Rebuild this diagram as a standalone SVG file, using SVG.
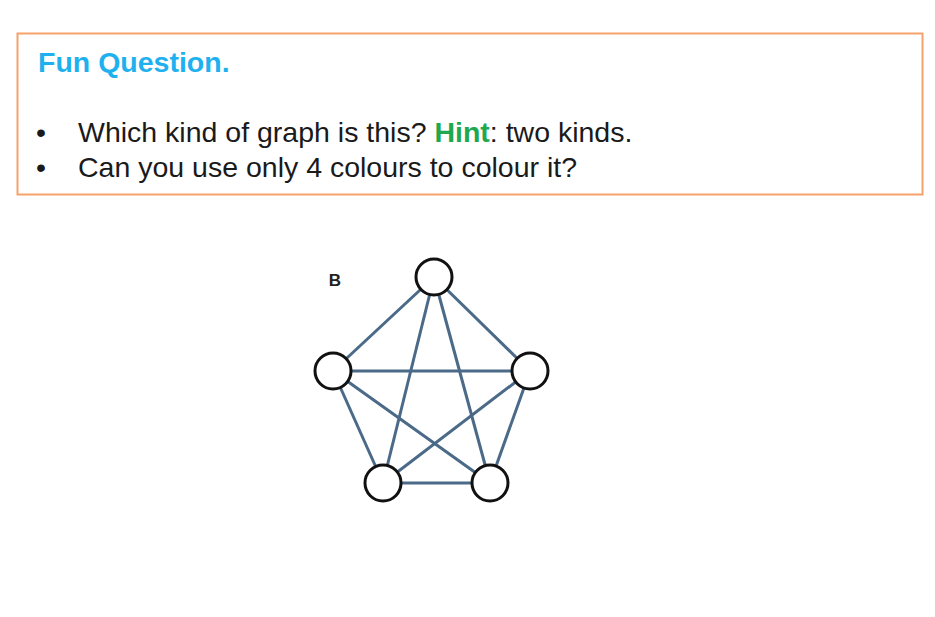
<svg xmlns="http://www.w3.org/2000/svg" width="935" height="617" viewBox="0 0 935 617">
<style>
.t{font-family:"Liberation Sans",Arial,sans-serif;font-size:28.5px;fill:#1a1a1a}
.e{stroke:#4a6a88;stroke-width:3;fill:none}
.n{fill:#fff;stroke:#111;stroke-width:3}
</style>
<rect x="0" y="0" width="935" height="617" fill="#fff"/>
<rect x="17.5" y="33.5" width="905" height="161" fill="#fff" stroke="#f6a26a" stroke-width="2"/>
<text x="38" y="72" font-family="Liberation Sans,Arial,sans-serif" font-size="28.5" font-weight="bold" fill="#1fb1ef">Fun Question.</text>
<text class="t" x="36" y="142">•</text>
<text class="t" x="78" y="142">Which kind of graph is this? <tspan font-weight="bold" fill="#21a84f">Hint</tspan>: two kinds.</text>
<text class="t" x="36" y="177">•</text>
<text class="t" x="78" y="177">Can you use only 4 colours to colour it?</text>
<text x="335" y="286" text-anchor="middle" font-family="Liberation Sans,Arial,sans-serif" font-size="17" font-weight="bold" fill="#222">B</text>
<g id="edges">
<line class="e" x1="434" y1="277" x2="333" y2="371"/>
<line class="e" x1="434" y1="277" x2="530" y2="371"/>
<line class="e" x1="434" y1="277" x2="383" y2="483"/>
<line class="e" x1="434" y1="277" x2="490" y2="483"/>
<line class="e" x1="333" y1="371" x2="530" y2="371"/>
<line class="e" x1="333" y1="371" x2="383" y2="483"/>
<line class="e" x1="333" y1="371" x2="490" y2="483"/>
<line class="e" x1="530" y1="371" x2="383" y2="483"/>
<line class="e" x1="530" y1="371" x2="490" y2="483"/>
<line class="e" x1="383" y1="483" x2="490" y2="483"/>
</g>
<g id="n1"><circle class="n" cx="434" cy="277" r="18"/></g>
<g id="n2"><circle class="n" cx="333" cy="371" r="18"/></g>
<g id="n3"><circle class="n" cx="530" cy="371" r="18"/></g>
<g id="n4"><circle class="n" cx="383" cy="483" r="18"/></g>
<g id="n5"><circle class="n" cx="490" cy="483" r="18"/></g>
</svg>
